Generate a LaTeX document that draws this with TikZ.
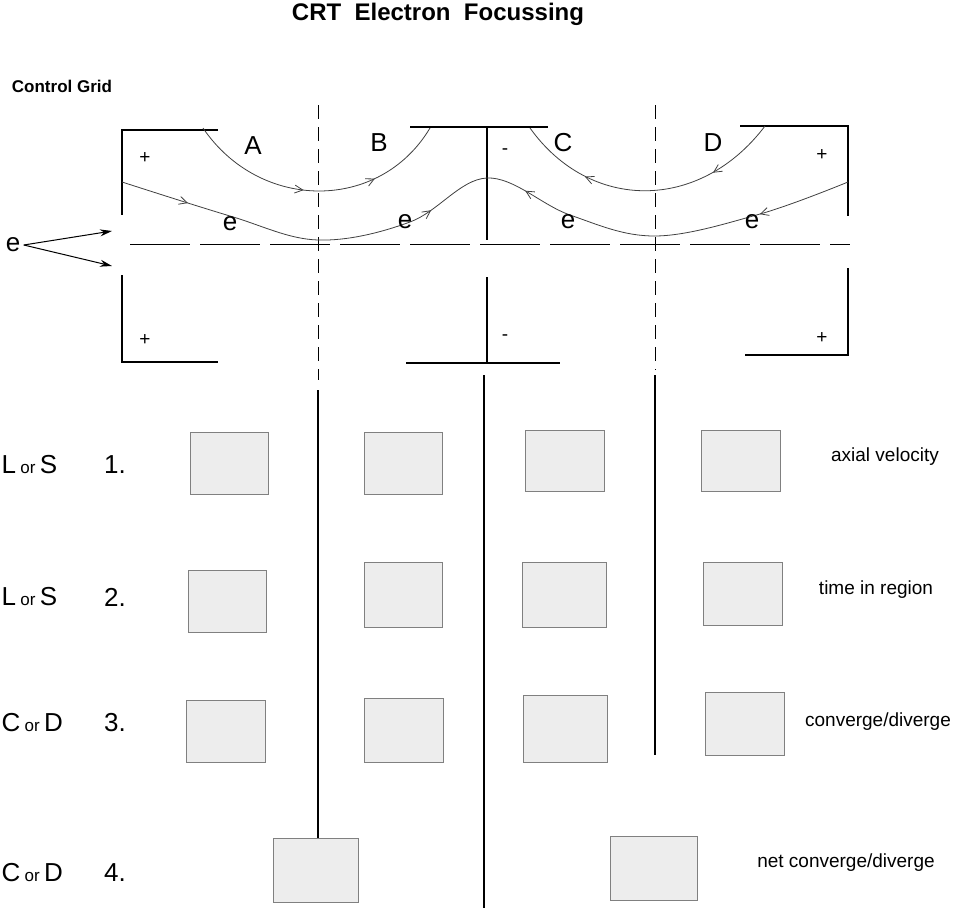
\documentclass[tikz,border=0pt]{standalone}
\usepackage{fontspec}
\setmainfont{Liberation Sans}
\usetikzlibrary{arrows.meta,decorations.markings}
\begin{document}
\begin{tikzpicture}[x=1pt,y=-1pt,
  plate/.style={line width=2pt},
  divd/.style={line width=1pt,dash pattern=on 14pt off 8pt},
  divs/.style={line width=2pt},
  path/.style={line width=0.8pt,black!75},
  bx/.style={draw=black!50,fill=black!7,line width=0.8pt},
  lab/.style={font=\fontsize{26}{26}\selectfont},
  sm/.style={font=\fontsize{19}{19}\selectfont},
  rar/.style={postaction={decorate}}]
\useasboundingbox (0,0) rectangle (975,908);
\node[font=\bfseries\fontsize{24}{24}\selectfont] (title) at (438,14) {CRT\ \ Electron\ \ Focussing};
\node[font=\bfseries\fontsize{17}{17}\selectfont] (cg) at (62,86) {Control Grid};
% plates
\draw[plate] (218,130) -- (122,130) -- (122,215);
\draw[plate] (122,275) -- (122,362) -- (218,362);
\draw[plate] (410,127) -- (548,127); \draw[plate] (487,127) -- (487,240);
\draw[plate] (487,277) -- (487,363); \draw[plate] (406,363) -- (560,363);
\draw[plate] (740,126) -- (848,126) -- (848,216);
\draw[plate] (848,268) -- (848,355) -- (745,355);
\node[sm] (p1) at (145,158) {+}; \node[sm] (p2) at (145,340) {+};
\node[sm] (m1) at (505,152) {-}; \node[sm] (m2) at (505,338) {-};
\node[sm] (p3) at (822,155) {+}; \node[sm] (p4) at (822,338) {+};
% dividers
\draw[divd] (318,105) -- (318,380);
\draw[divd] (655,105) -- (655,370);
\draw[divs] (318,390) -- (318,838);
\draw[divs] (655,375) -- (655,755);
\draw[divs] (484,375) -- (484,908);
\draw[line width=1pt,dash pattern=on 60pt off 10pt] (130,244) -- (850,244);
% region labels
\node[lab] (A) at (253,146) {A}; \node[lab] (B) at (379,143) {B};
\node[lab] (C) at (563,143) {C}; \node[lab] (D) at (713,143) {D};
% upper paths
\draw[path,decoration={markings,mark=at position .45 with {\arrow{Straight Barb[length=8pt,width=8pt]}},mark=at position .72 with {\arrow{Straight Barb[length=8pt,width=8pt]}}},rar]
 (203,128) .. controls (260,212) and (380,212) .. (430,128);
\draw[path,decoration={markings,mark=at position .3 with {\arrow{Straight Barb[length=8pt,width=8pt,reversed]}},mark=at position .78 with {\arrow{Straight Barb[length=8pt,width=8pt,reversed]}}},rar]
 (530,128) .. controls (590,212) and (700,212) .. (765,126);
% lower path
\draw[path,decoration={markings,mark=at position .09 with {\arrow{Straight Barb[length=8pt,width=8pt]}},mark=at position .42 with {\arrow{Straight Barb[length=8pt,width=8pt]}},mark=at position .57 with {\arrow{Straight Barb[length=8pt,width=8pt,reversed]}},mark=at position .89 with {\arrow{Straight Barb[length=8pt,width=8pt,reversed]}}},rar]
 plot[smooth,tension=0.6] coordinates {(122,182) (230,216) (318,240) (410,222) (487,178) (570,215) (655,236) (760,214) (848,182)};
\node[lab] (e1) at (230,224) {e}; \node[lab] (e2) at (405,222) {e};
\node[lab] (e3) at (568,222) {e}; \node[lab] (e4) at (752,222) {e};
\node[lab] (e0) at (13,245) {e};
\coordinate (t1) at (112,231); \coordinate (t2) at (112,266);
\draw[line width=1pt,-{Stealth[length=12pt,width=7pt]}] (e0.east) -- (t1);
\draw[line width=1pt,-{Stealth[length=12pt,width=7pt]}] (e0.east) -- (t2);
% row labels
\foreach \y/\a/\b/\n in {465/L/S/1, 597/L/S/2, 723/C/D/3, 873/C/D/4}{
  \node[lab,anchor=west] at (-2,\y) {\a\,{\fontsize{17}{17}\selectfont or}\,\b};
  \node[lab] at (115,\y) {\n.};
}
% boxes
\draw[bx] (190,432) rectangle (268,494);
\draw[bx] (364,432) rectangle (442,494);
\draw[bx] (525,430) rectangle (604,491);
\draw[bx] (701,430) rectangle (780,491);
\draw[bx] (188,570) rectangle (266,632);
\draw[bx] (364,562) rectangle (442,627);
\draw[bx] (522,562) rectangle (606,627);
\draw[bx] (703,562) rectangle (782,625);
\draw[bx] (186,700) rectangle (265,762);
\draw[bx] (364,698) rectangle (443,762);
\draw[bx] (523,695) rectangle (607,762);
\draw[bx] (705,692) rectangle (784,755);
\draw[bx] (273,838) rectangle (358,902);
\draw[bx] (610,836) rectangle (697,900);
% right labels
\node[sm] (r1) at (885,457) {axial\ velocity};
\node[sm] (r2) at (876,590) {time in region};
\node[sm] (r3) at (878,722) {converge/diverge};
\node[sm] (r4) at (846,863) {net\ converge/diverge};
\end{tikzpicture}
\end{document}
